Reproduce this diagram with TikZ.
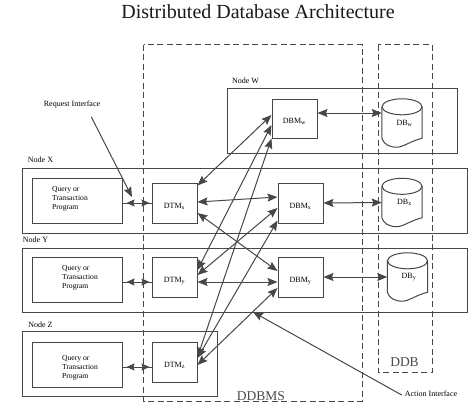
\documentclass[tikz,border=0pt]{standalone}
\usepackage{fontspec}
\setmainfont{Liberation Serif}
\usetikzlibrary{arrows.meta}

\begin{document}
\begin{tikzpicture}[
    x=1pt, y=-1pt,
    line/.style={draw=black!72, line width=1pt},
    region/.style={line, dash pattern=on 6pt off 3.5pt},
    site/.style={line, minimum height=#1, minimum width=445pt, inner sep=0pt},
    box/.style={line, minimum width=45pt, minimum height=40pt, inner sep=0pt, font=\fontsize{8}{9}\selectfont, text height=10pt, text depth=0pt},
    qpbox/.style={line, minimum width=90pt, minimum height=45pt, inner sep=0pt},
    qptext/.style={align=left, inner sep=0pt, font=\fontsize{7.6}{9}\selectfont, text=black},
    dbbox/.style={minimum width=40pt, minimum height=48pt, inner sep=0pt, font=\fontsize{8}{9}\selectfont},
    tag/.style={inner sep=0pt, font=\fontsize{8}{9}\selectfont, text=black},
    big/.style={inner sep=1pt, font=\fontsize{13.5}{14}\selectfont, text=black!70},
    arr/.style={line, {Stealth[length=10pt,width=8pt,inset=1.5pt]}-{Stealth[length=10pt,width=8pt,inset=1.5pt]}},
    one/.style={line, -{Stealth[length=10pt,width=8pt,inset=1.5pt]}},
    inset/.style={line, postaction={draw=black!72, shorten >=2pt, shorten <=4pt, {Stealth[length=8pt,width=7pt,inset=1pt]}-{Stealth[length=8pt,width=7pt,inset=1pt]}}}
]
\useasboundingbox (0,0) rectangle (474,405);

\node[font=\fontsize{20}{22}\selectfont, text=black!90, inner sep=0pt] (title) at (258,12) {Distributed Database Architecture};

% dashed regions
\draw[region] (143.5,44.5) rectangle (362,401);
\draw[region] (378,44.5) rectangle (432,372);
\node[big] (ddbms) at (261,396) {DDBMS};
\node[big, inner sep=0pt] (ddb) at (404.5,362) {DDB};

% sites
\node[line, minimum width=230pt, minimum height=64.5pt, inner sep=0pt] (nodew) at (342,120.8) {};
\node[site=65pt] (nodex) at (244.8,200.5) {};
\node[site=64pt] (nodey) at (244.8,280) {};
\node[line, minimum width=195pt, minimum height=65.5pt, inner sep=0pt] (nodez) at (120,364.2) {};
\node[tag] (labelw) at (245.5,81) {Node W};
\node[tag] (labelx) at (40.5,160) {Node X};
\node[tag] (labely) at (35.5,240) {Node Y};
\node[tag] (labelz) at (40.5,325) {Node Z};

% programs
\node[qpbox] (qpx) at (77,200.5) {};
\node[qpbox] (qpy) at (77,279.5) {};
\node[qpbox] (qpz) at (77,364.5) {};
\node[qptext] (textx) at (70,199) {Query or\\Transaction\\Program};
\node[qptext] (texty) at (80,278) {Query or\\Transaction\\Program};
\node[qptext] (textz) at (80,367.5) {Query or\\Transaction\\Program};

% managers
\node[box, minimum height=39pt] (dbmw) at (294.5,118.5) {DBM\textsubscript{w}};
\node[box] (dtmx) at (174.5,203) {DTM\textsubscript{x}};
\node[box] (dbmx) at (300.5,203) {DBM\textsubscript{x}};
\node[box] (dtmy) at (174.5,277) {DTM\textsubscript{y}};
\node[box] (dbmy) at (300.5,277) {DBM\textsubscript{y}};
\node[box] (dtmz) at (174.5,362) {DTM\textsubscript{z}};

% databases
\node[dbbox] (dbw) at (402,123) {\hspace*{5pt}DB\textsubscript{w}};
\node[dbbox] (dbx) at (402,202.5) {\hspace*{5pt}DB\textsubscript{x}};
\node[dbbox] (dby) at (407.5,277) {\hspace*{3pt}DB\textsubscript{y}};
\foreach \n in {dbw,dbx,dby} {
    \draw[line] ([yshift=-8pt]\n.north) ellipse [x radius=20, y radius=8];
    \draw[line] ([yshift=-8pt]\n.north west) -- ([yshift=9pt]\n.south west)
        .. controls +(2,6) and +(-8,0) .. ([xshift=-5pt]\n.south)
        .. controls +(6,0) and +(-12,3) .. ([yshift=9pt]\n.south east)
        -- ([yshift=-8pt]\n.north east);
}

% program to transaction manager
\draw[inset] ([yshift=-2.5pt]qpx.east) -- (dtmx.west);
\draw[inset] ([yshift=-2.5pt]qpy.east) -- ([yshift=-5pt]dtmy.west);
\draw[inset] ([yshift=-2.5pt]qpz.east) -- ([yshift=-5pt]dtmz.west);

% manager to database
\draw[arr] ([yshift=5.5pt]dbmw.east) -- ([yshift=10pt]dbw.west);
\draw[arr] (dbmx.east) -- (dbx.west);
\draw[arr] (dbmy.east) -- (dby.west);

% transaction manager to data manager
\draw[arr] ([yshift=-3pt]dtmx.north east) -- ([yshift=3.5pt]dbmw.west);
\draw[arr] ([yshift=7pt]dtmy.east) -- ([yshift=-6.5pt]dbmw.west);
\draw[arr] ([yshift=5pt]dtmz.east) -- (dbmw.south west);
\draw[arr] ([yshift=1pt]dtmx.east) -- ([yshift=6pt]dbmx.west);
\draw[arr] ([yshift=2pt]dtmy.east) -- ([yshift=-5pt]dbmx.west);
\draw[arr] ([yshift=4pt]dtmz.east) -- ([yshift=3pt]dbmx.south west);
\draw[arr] ([yshift=-10pt]dtmx.east) -- ([yshift=6pt]dbmy.west);
\draw[arr] ([yshift=-5pt]dtmy.east) -- ([yshift=-5pt]dbmy.west);
\draw[arr] ([yshift=-3pt]dtmz.east) -- ([yshift=-11pt]dbmy.west);

% interfaces
\node[tag] (request) at (72,105) {Request Interface};
\node[tag] (action) at (431,394) {Action Interface};
\coordinate (requesttip) at (132,197);
\coordinate (actiontip) at (253,312);
\draw[one] ([xshift=-9pt,yshift=-8pt]request.south east) -- (requesttip);
\draw[one] ([xshift=-3pt,yshift=-1pt]action.west) -- (actiontip);
\end{tikzpicture}
\end{document}
